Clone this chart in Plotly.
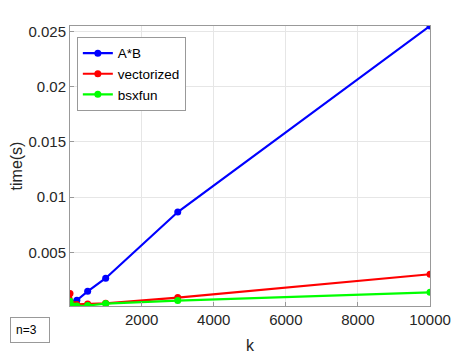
import plotly.graph_objects as go

k = [10, 100, 200, 500, 1000, 3000, 10000]
t_ab = [0.00025, 0.0004, 0.00068, 0.00149, 0.00267, 0.00866, 0.02548]
t_vec = [0.00128, 0.0003, 0.0003, 0.00035, 0.0004, 0.00092, 0.00303]
t_bsx = [0.0006, 0.00017, 0.00017, 0.0002, 0.00038, 0.00065, 0.0014]
names = ["A*B", "vectorized", "bsxfun"]
colors = ["#0000ff", "#ff0000", "#00ff00"]
x_ticks = [2000, 4000, 6000, 8000, 10000]
y_ticks = [0.005, 0.01, 0.015, 0.02, 0.025]
y_tick_text = ["0.005", "0.01", "0.015", "0.02", "0.025"]

fig = go.Figure()
for name, ys, c in zip(names, [t_ab, t_vec, t_bsx], colors):
    fig.add_trace(go.Scatter(x=k, y=ys, name=name, mode="lines+markers",
                             line=dict(color=c, width=2.2),
                             marker=dict(color=c, size=7)))

axis_common = dict(showline=True, linecolor="#999999", linewidth=1, mirror=True,
                   ticks="inside", ticklen=4, tickcolor="#999999",
                   showgrid=True, gridcolor="#e6e6e6", gridwidth=1, zeroline=False,
                   automargin=False,
                   tickfont=dict(family="Liberation Sans, Arial", size=15, color="#262626"))

fig.update_layout(
    width=466, height=347,
    margin=dict(l=62, r=44, t=18, b=49),
    paper_bgcolor="white", plot_bgcolor="white",
    font=dict(family="Liberation Sans, Arial", color="#262626"),
    xaxis=dict(range=[10, 10000], tickvals=x_ticks, ticktext=[str(v) for v in x_ticks],
               title=dict(text="k", font=dict(size=16), standoff=12), **axis_common),
    yaxis=dict(range=[0.00016, 0.02548], tickvals=y_ticks, ticktext=y_tick_text,
               title=dict(text="time(s)", font=dict(size=16), standoff=8), **axis_common),
    legend=dict(x=0.019, y=0.961, xanchor="left", yanchor="top",
                bgcolor="white", bordercolor="#999999", borderwidth=1,
                font=dict(size=13.5, color="#000000"), tracegroupgap=0,
                itemwidth=30),
    showlegend=True,
    annotations=[dict(text="n=3", xref="paper", yref="paper", x=-0.166, y=-0.04,
                      xanchor="left", yanchor="top", showarrow=False,
                      font=dict(size=12, color="#000000"),
                      bordercolor="#999999", borderwidth=1, borderpad=5,
                      bgcolor="white", width=28, align="left")],
)

fig.write_html("out.html")
